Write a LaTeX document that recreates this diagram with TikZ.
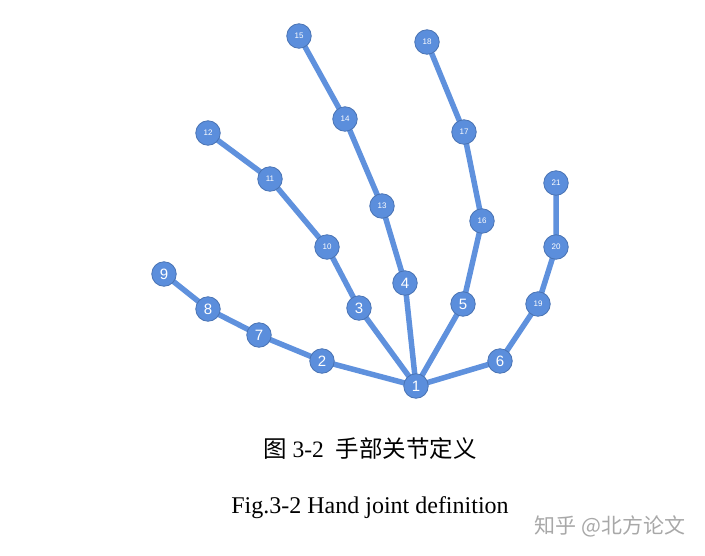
\documentclass[tikz,border=0pt]{standalone}
\usepackage{fontspec}
\setmainfont{Liberation Serif}
\newfontfamily\lab{Liberation Sans}
\newfontfamily\cjk{Noto Sans CJK SC}
\definecolor{jfill}{HTML}{5B8EDC}
\definecolor{jline}{HTML}{5F91DD}
\definecolor{jedge}{HTML}{4A74B4}
\definecolor{wm}{HTML}{A8A8A8}
\tikzset{
  joint/.style={circle, fill=jfill, draw=jedge, line width=0.8pt, minimum size=24.5pt, inner sep=0pt, text=white, font=\lab\fontsize{15}{15}\selectfont},
  sjoint/.style={joint, font=\lab\fontsize{8}{8}\selectfont},
  bone/.style={line width=5.5pt, draw=jline}
}
\begin{document}
\begin{tikzpicture}[x=1pt,y=-1pt]
\useasboundingbox (0,0) rectangle (705,555);
\coordinate (p1) at (416,386);
\coordinate (p2) at (322,361);
\coordinate (p3) at (359,308);
\coordinate (p4) at (405,283);
\coordinate (p5) at (463,304);
\coordinate (p6) at (500,361);
\coordinate (p7) at (259,335);
\coordinate (p8) at (208,309);
\coordinate (p9) at (164,274);
\coordinate (p10) at (327,247);
\coordinate (p11) at (270,179);
\coordinate (p12) at (208,133);
\coordinate (p13) at (382,206);
\coordinate (p14) at (345,119);
\coordinate (p15) at (299,36);
\coordinate (p16) at (482,221);
\coordinate (p17) at (464,132);
\coordinate (p18) at (427,42);
\coordinate (p19) at (538,304);
\coordinate (p20) at (556,247);
\coordinate (p21) at (556,183);
\draw[bone] (p9) -- (p8) -- (p7) -- (p2) -- (p1);
\draw[bone] (p12) -- (p11) -- (p10) -- (p3) -- (p1);
\draw[bone] (p15) -- (p14) -- (p13) -- (p4) -- (p1);
\draw[bone] (p18) -- (p17) -- (p16) -- (p5) -- (p1);
\draw[bone] (p21) -- (p20) -- (p19) -- (p6) -- (p1);
\foreach \i in {1,...,9} \node[joint] (n\i) at (p\i) {\i};
\foreach \i in {10,...,21} \node[sjoint] (n\i) at (p\i) {\i};
\node (cap1) at (370,449) {\fontsize{23.5}{23.5}\selectfont{\cjk 图}~3-2~~{\cjk 手部关节定义}};
\node (cap2) at (370,508) {\fontsize{24}{24}\selectfont Fig.3-2 Hand joint definition};
\node[text=wm] (wmk) at (610,526) {\cjk\fontsize{21}{21}\selectfont 知乎 @北方论文};
\end{tikzpicture}
\end{document}
